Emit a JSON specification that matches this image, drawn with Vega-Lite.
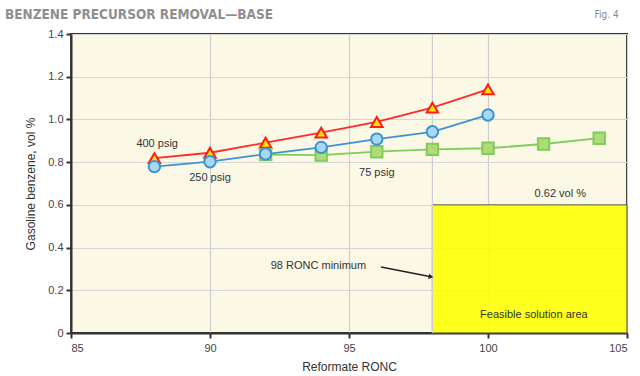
{
  "$schema": "https://vega.github.io/schema/vega-lite/v6.json",
  "autosize": "none",
  "width": 556,
  "height": 299,
  "padding": {"left": 71, "top": 34, "right": 13, "bottom": 43},
  "background": "white",
  "title": {"text": "BENZENE PRECURSOR REMOVAL—BASE", "anchor": "start", "frame": "group", "dx": -66, "dy": 22, "offset": 10, "fontSize": 13.5, "font": "Liberation Sans Narrow, DejaVu Sans Condensed", "fontWeight": "bold", "color": "#8f8f8f"},
  "config": {
    "view": {"fill": "#fbf8e6", "stroke": "#333333", "strokeWidth": 2},
    "axis": {"labelFont": "Liberation Sans", "titleFont": "Liberation Sans", "labelFontSize": 11, "titleFontSize": 12, "labelColor": "#444444", "titleColor": "#333333", "titleFontWeight": "normal", "domainColor": "#333333", "domainWidth": 2, "tickColor": "#333333", "tickWidth": 2, "tickSize": 5, "gridColor": "#d6d6d6", "gridWidth": 1.2}
  },
  "datasets": {
    "series": [
      {"x": 88, "y": 0.819, "s": "400 psig"},
      {"x": 90, "y": 0.844, "s": "400 psig"},
      {"x": 92, "y": 0.891, "s": "400 psig"},
      {"x": 94, "y": 0.938, "s": "400 psig"},
      {"x": 96, "y": 0.988, "s": "400 psig"},
      {"x": 98, "y": 1.055, "s": "400 psig"},
      {"x": 100, "y": 1.141, "s": "400 psig"},
      {"x": 92, "y": 0.835, "s": "75 psig"},
      {"x": 94, "y": 0.833, "s": "75 psig"},
      {"x": 96, "y": 0.849, "s": "75 psig"},
      {"x": 98, "y": 0.86, "s": "75 psig"},
      {"x": 100, "y": 0.865, "s": "75 psig"},
      {"x": 102, "y": 0.885, "s": "75 psig"},
      {"x": 104, "y": 0.912, "s": "75 psig"},
      {"x": 88, "y": 0.779, "s": "250 psig"},
      {"x": 90, "y": 0.802, "s": "250 psig"},
      {"x": 92, "y": 0.838, "s": "250 psig"},
      {"x": 94, "y": 0.869, "s": "250 psig"},
      {"x": 96, "y": 0.908, "s": "250 psig"},
      {"x": 98, "y": 0.942, "s": "250 psig"},
      {"x": 100, "y": 1.021, "s": "250 psig"}
    ],
    "region": [{"x": 98, "x2": 105, "y": 0, "y2": 0.6}],
    "labels": [
      {"x": 88.1, "y": 0.885, "t": "400 psig"},
      {"x": 90.0, "y": 0.728, "t": "250 psig"},
      {"x": 96.0, "y": 0.75, "t": "75 psig"},
      {"x": 102.6, "y": 0.65, "t": "0.62 vol %"},
      {"x": 93.9, "y": 0.316, "t": "98 RONC minimum"},
      {"x": 101.65, "y": 0.086, "t": "Feasible solution area"}
    ],
    "arrow": [{"x": 96.15, "y": 0.309, "x2": 97.95, "y2": 0.263}],
    "fig": [{"x": 104.7, "y": 1.49, "t": "Fig. 4"}]
  },
  "encoding": {},
  "layer": [
    {
      "data": {"name": "region"},
      "mark": {"type": "rect", "fill": "#ffff00", "fillOpacity": 0.88, "stroke": "#555555", "strokeWidth": 1},
      "encoding": {
        "x": {"field": "x", "type": "quantitative", "scale": {"domain": [85, 105], "nice": false}, "axis": {"values": [85, 90, 95, 100, 105], "title": "Reformate RONC", "titlePadding": 8, "labelPadding": 4, "gridColor": "#d0d0d0"}},
        "x2": {"field": "x2"},
        "y": {"field": "y", "type": "quantitative", "scale": {"domain": [0, 1.4], "nice": false}, "axis": {"values": [0, 0.2, 0.4, 0.6, 0.8, 1.0, 1.2, 1.4], "labelExpr": "datum.value == 0 ? '0' : format(datum.value, '.1f')", "title": "Gasoline benzene, vol %", "titlePadding": 10, "labelPadding": 3}},
        "y2": {"field": "y2"}
      }
    },
    {
      "data": {"name": "region"},
      "mark": {"type": "rule", "color": "#cfcfcf", "strokeWidth": 1.2},
      "encoding": {"x": {"field": "x", "type": "quantitative"}}
    },
    {
      "data": {"name": "series"},
      "mark": {"type": "line", "strokeWidth": 1.8},
      "encoding": {
        "x": {"field": "x", "type": "quantitative"},
        "y": {"field": "y", "type": "quantitative"},
        "color": {"field": "s", "type": "nominal", "legend": null, "scale": {"domain": ["400 psig", "250 psig", "75 psig"], "range": ["#ff2a2a", "#3d92d4", "#7fcc5c"]}}
      }
    },
    {
      "data": {"name": "series"},
      "mark": {"type": "point", "filled": true, "size": 130, "strokeWidth": 2, "opacity": 1},
      "encoding": {
        "x": {"field": "x", "type": "quantitative"},
        "y": {"field": "y", "type": "quantitative"},
        "shape": {"field": "s", "type": "nominal", "legend": null, "scale": {"domain": ["400 psig", "250 psig", "75 psig"], "range": ["triangle-up", "circle", "square"]}},
        "fill": {"field": "s", "type": "nominal", "legend": null, "scale": {"domain": ["400 psig", "250 psig", "75 psig"], "range": ["#ffe600", "#a9d9f2", "#b0dc78"]}},
        "stroke": {"field": "s", "type": "nominal", "legend": null, "scale": {"domain": ["400 psig", "250 psig", "75 psig"], "range": ["#ff1a1a", "#3d92d4", "#7fcc5c"]}}
      }
    },
    {
      "data": {"name": "labels"},
      "mark": {"type": "text", "font": "Liberation Sans", "fontSize": 11, "color": "#333333", "align": "center", "baseline": "middle"},
      "encoding": {
        "x": {"field": "x", "type": "quantitative"},
        "y": {"field": "y", "type": "quantitative"},
        "text": {"field": "t"}
      }
    },
    {
      "data": {"name": "arrow"},
      "mark": {"type": "rule", "color": "#222222", "strokeWidth": 1.5},
      "encoding": {
        "x": {"field": "x", "type": "quantitative"},
        "y": {"field": "y", "type": "quantitative"},
        "x2": {"field": "x2"},
        "y2": {"field": "y2"}
      }
    },
    {
      "data": {"name": "arrow"},
      "mark": {"type": "point", "shape": "triangle-right", "filled": true, "color": "#222222", "size": 30, "angle": 12, "opacity": 1},
      "encoding": {
        "x": {"field": "x2", "type": "quantitative"},
        "y": {"field": "y2", "type": "quantitative"}
      }
    },
    {
      "data": {"name": "fig"},
      "mark": {"type": "text", "font": "Liberation Sans Narrow, DejaVu Sans Condensed", "fontSize": 10, "color": "#888888", "align": "right", "baseline": "middle"},
      "encoding": {
        "x": {"field": "x", "type": "quantitative"},
        "y": {"field": "y", "type": "quantitative"},
        "text": {"field": "t"}
      }
    }
  ]
}
